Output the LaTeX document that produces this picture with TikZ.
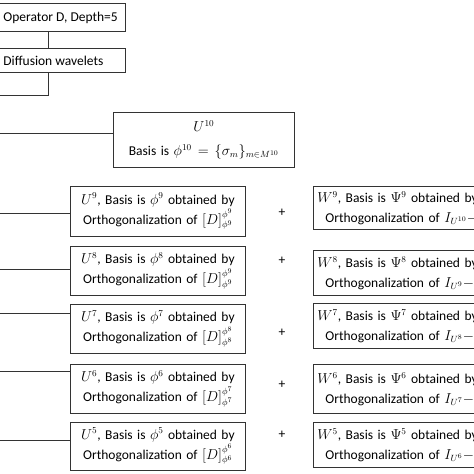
\documentclass[tikz,border=0pt]{standalone}
\usepackage{fontspec}
\setmainfont{Carlito}
\begin{document}
\begin{tikzpicture}[x=1pt,y=-1pt,
    every node/.style={font=\fontsize{13.5}{20}\selectfont},
    box/.style={draw=black!80, line width=0.8pt, anchor=north west, inner xsep=2pt, inner ysep=1pt},
    ubox/.style={box, text width=171pt, align=center},
    wbox/.style={box, text width=200pt, align=left, inner xsep=4pt},
    link/.style={draw=black!80, line width=0.8pt}]
  \useasboundingbox (0,0) rectangle (474,474);
  \clip (0,0) rectangle (474,474);
  % top of the tree
  \node[box, inner xsep=7pt, minimum height=28pt] (op) at (-4,3) {\makebox[115pt][l]{Operator D, Depth=5}};
  \node[box, inner xsep=7pt, minimum height=24pt] (dw) at (-4,48) {\makebox[115pt][l]{Diffusion wavelets}};
  \coordinate (trunk) at (48,0);
  \coordinate (t0) at (0,95);
  \draw[link] (op.south -| trunk) -- (dw.north -| trunk);
  \draw[link] (dw.south -| trunk) |- (t0);
  % level 10
  \node[box, text width=177pt, align=center, minimum height=55pt] (u10) at (113,112)
    {$U^{10}$\\[4pt] Basis is $\phi^{10}=\{\sigma_m\}_{m\in M^{10}}$};
  \coordinate (t10) at (0,133);
  \draw[link] (t10) -- (t10 -| u10.west);
  % levels 9 to 5
  \foreach \n/\m/\p/\ut/\uh/\wt/\wh/\ly/\py in
      {9/10/9/186/50/186/43/213/213, 8/9/9/246/49/250/45/269/261,
       7/8/8/304/49/303/45/313/333, 6/7/7/364/49/364/49/371/385,
       5/6/6/422/48/422/45/440/435}{
    \node[ubox, minimum height=\uh pt] (u\n) at (70,\ut)
      {$U^{\n}$, Basis is $\phi^{\n}$ obtained by\\ Orthogonalization of $[D]^{\phi^{\p}}_{\phi^{\p}}$};
    \node[wbox, minimum height=\wh pt] (w\n) at (313,\wt)
      {$W^{\n}$, Basis is $\Psi^{\n}$ obtained by\\ \hspace*{8pt}Orthogonalization of $I_{U^{\m}}-$};
    \node (plus\n) at (282,\py) {+};
    \coordinate (t\n) at (0,\ly);
    \draw[link] (t\n) -- (t\n -| u\n.west);
  }
\end{tikzpicture}
\end{document}
